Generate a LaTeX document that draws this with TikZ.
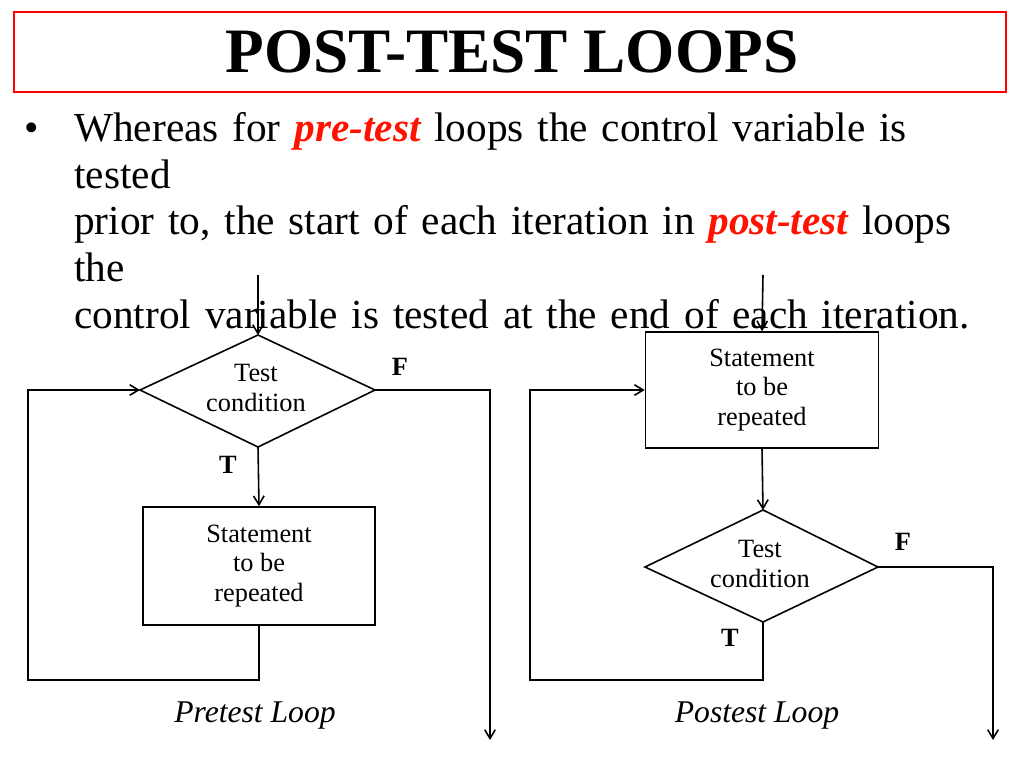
\documentclass[tikz,border=0pt]{standalone}
\usepackage{fontspec}
\setmainfont{Liberation Serif}
\usetikzlibrary{arrows.meta}
\begin{document}
\begin{tikzpicture}[x=0.02cm,y=-0.02cm,
  ln/.style={line width=0.9pt},
  arr/.style={ln,-{Straight Barb[length=5pt,width=6pt]}},
  lbl/.style={font=\fontsize{15}{17}\selectfont,align=center}]
\useasboundingbox (0,0) rectangle (1024,768);
\draw[draw=red,line width=1.6pt] (14,12) rectangle (1006,92);
\node (title) at (512,52) {\fontsize{36}{40}\selectfont\bfseries POST-TEST LOOPS};
\node[anchor=north west,text width=18.5cm,align=left,inner sep=0,
  font=\fontsize{23.5}{26.6}\selectfont] (body) at (74,112)
 {\hspace*{-1.0cm}\makebox[1.0cm][l]{•}Whereas for {\color{red!85!orange}\bfseries\itshape pre-test} loops the control variable is tested\\
 prior to, the start of each iteration in {\color{red!85!orange}\bfseries\itshape post-test} loops the\\
 control variable is tested at the end of each iteration.};
% left
\coordinate (lin) at (258,275);
\coordinate (d1t) at (258,335); \coordinate (d1b) at (258,447);
\coordinate (d1l) at (140,390); \coordinate (d1r) at (375,390);
\draw[ln] (d1t)--(d1r)--(d1b)--(d1l)--cycle;
\node[lbl] (tc1) at (256,388) {Test\\condition};
\node[lbl,font=\fontsize{15}{17}\selectfont\bfseries] (f1) at (400,367) {F};
\node[lbl,font=\fontsize{15}{17}\selectfont\bfseries] (t1) at (228,465) {T};
\node[draw,ln,minimum width=4.64cm,minimum height=2.36cm,lbl] (s1) at (259,566) {Statement\\to be\\repeated};
\draw[arr] (lin)--(d1t);
\draw[arr] (d1b)--(s1.north);
\coordinate (l1b) at (28,680); \coordinate (l1c) at (28,390);
\draw[arr] (s1.south)|-(l1b)--(l1c)--(d1l);
\coordinate (o1) at (490,740);
\draw[arr] (d1r)-|(o1);
\node[font=\fontsize{18}{19}\selectfont\itshape] (c1) at (255,715) {Pretest Loop};
% right
\coordinate (rin) at (763,275);
\node[draw,ln,minimum width=4.66cm,minimum height=2.32cm,lbl] (s2) at (762,390) {Statement\\to be\\repeated};
\coordinate (d2t) at (763,510); \coordinate (d2b) at (763,622);
\coordinate (d2l) at (645,567); \coordinate (d2r) at (878,567);
\draw[ln] (d2t)--(d2r)--(d2b)--(d2l)--cycle;
\node[lbl] (tc2) at (760,564) {Test\\condition};
\node[lbl,font=\fontsize{15}{17}\selectfont\bfseries] (f2) at (903,542) {F};
\node[lbl,font=\fontsize{15}{17}\selectfont\bfseries] (t2) at (730,638) {T};
\draw[arr] (rin)--(s2.north);
\draw[arr] (s2.south)--(d2t);
\coordinate (l2b) at (530,680); \coordinate (l2c) at (530,390);
\draw[arr] (d2b)|-(l2b)--(l2c)--(s2.west);
\coordinate (o2) at (993,740);
\draw[arr] (d2r)-|(o2);
\node[font=\fontsize{18}{19}\selectfont\itshape] (c2) at (757,715) {Postest Loop};
\end{tikzpicture}
\end{document}
